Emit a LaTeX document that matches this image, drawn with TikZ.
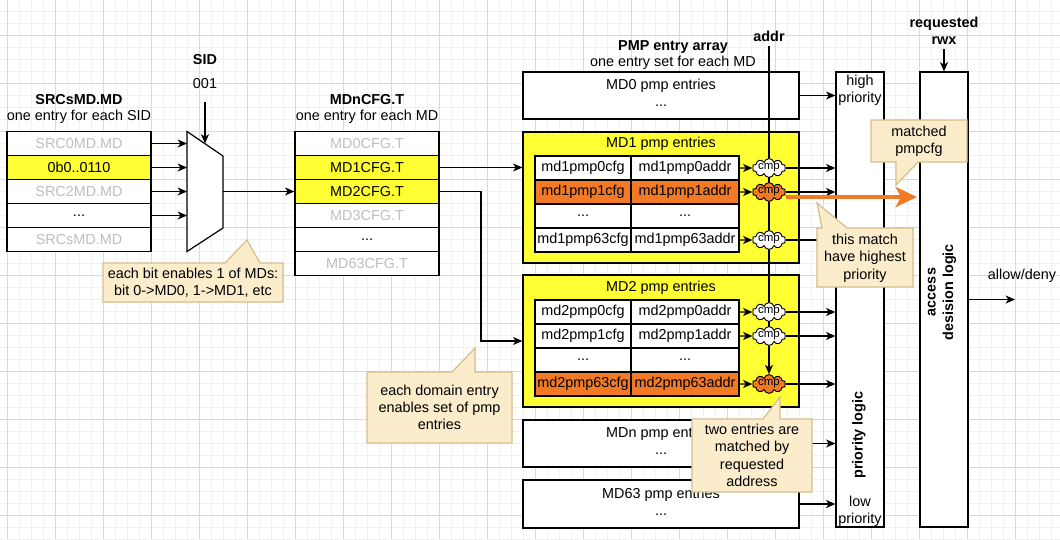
\documentclass[tikz,border=0pt]{standalone}
\usepackage{fontspec}
\setmainfont{Liberation Sans}
\usetikzlibrary{shapes.symbols,arrows.meta}
\definecolor{ylw}{RGB}{255,255,51}
\definecolor{org}{RGB}{242,122,38}
\definecolor{notefill}{RGB}{251,236,203}
\definecolor{notedraw}{RGB}{214,190,140}
\definecolor{txtgray}{RGB}{190,190,190}
\definecolor{gridmin}{RGB}{241,241,241}
\definecolor{gridmaj}{RGB}{218,218,218}
\begin{document}
\begin{tikzpicture}[x=0.75pt,y=-0.75pt,
  font=\fontsize{10.8}{13}\selectfont,
  line width=0.9pt,
  bold/.style={font=\fontsize{10.8}{13}\selectfont\bfseries},
  arr/.style={-{Stealth[length=7pt,width=6pt,inset=2pt]},line width=0.9pt},
  orangearr/.style={-{Stealth[length=16pt,width=15pt,inset=4pt]},line width=3pt,draw=org},
  tcell/.style={draw,inner sep=0pt,minimum width=108pt,minimum height=18pt,fill=white},
  gcell/.style={tcell,text=txtgray},
  ycell/.style={tcell,fill=ylw},
  cfgcell/.style={draw,inner sep=0pt,minimum width=72pt,minimum height=18pt,fill=white},
  addrcell/.style={draw,inner sep=0pt,minimum width=81pt,minimum height=18pt,fill=white},
  mdbox/.style={draw,fill=white,minimum width=207pt,inner sep=0pt},
  ybox/.style={draw,fill=ylw,minimum width=207pt,inner sep=0pt},
  tallbox/.style={draw,fill=white,minimum width=36pt,minimum height=341.25pt,inner sep=0pt},
  cmpcloud/.style={cloud,cloud puffs=10,cloud ignores aspect,draw,fill=white,line width=0.7pt,
    minimum width=25pt,minimum height=13pt,inner sep=0pt,font=\fontsize{8.6}{9}\selectfont},
  note/.style={draw=notedraw,fill=notefill,line width=0.9pt}
]
\useasboundingbox (0,0) rectangle (1060,539);
\fill[white] (0,0) rectangle (1060,539);
% grid
\foreach \x in {7,19,...,1060} \draw[gridmin,line width=0.75pt] (\x,0) -- (\x,539);
\foreach \y in {11,23,...,539} \draw[gridmin,line width=0.75pt] (0,\y) -- (1060,\y);
\foreach \x in {7,55,...,1060} \draw[gridmaj,line width=0.75pt] (\x,0) -- (\x,539);
\foreach \y in {35,83,...,539} \draw[gridmaj,line width=0.75pt] (0,\y) -- (1060,\y);

% SRCsMD table
\node[bold] (srct) at (79,100) {SRCsMD.MD};
\node (srcs) at (79,117) {one entry for each SID};
\node[gcell] (s0) at (79,143.5) {SRC0MD.MD};
\node[ycell] (s1) at (79,167.5) {0b0..0110};
\node[gcell] (s2) at (79,191.5) {SRC2MD.MD};
\node[tcell] (s3) at (79,215.5) {...};
\node[gcell] (s4) at (79,239.5) {SRCsMD.MD};

% mux
\coordinate (mux1) at (187,131.5);
\coordinate (mux2) at (223,156);
\coordinate (mux3) at (223,228);
\coordinate (mux4) at (187,251.5);
\coordinate (muxL) at (187,0);
\draw[fill=white] (mux1) -- (mux2) -- (mux3) -- (mux4) -- cycle;
\foreach \r in {s0,s1,s2,s3} \draw[arr] (\r.east) -- (\r.east -| muxL);
\node[bold] (sid) at (205,60) {SID};
\node (sidv) at (205,84) {001};
\coordinate (sidarr) at (205,102);
\coordinate (muxtop) at (205,143.5);
\draw[arr] (sidarr) -- (muxtop);
\coordinate (muxout) at (223,191.5);

% MDnCFG table
\node[bold] (cfgt) at (367,100) {MDnCFG.T};
\node (cfgs) at (367,117) {one entry for each MD};
\node[gcell] (c0) at (367,143.5) {MD0CFG.T};
\node[ycell] (c1) at (367,167.5) {MD1CFG.T};
\node[ycell] (c2) at (367,191.5) {MD2CFG.T};
\node[gcell] (c3) at (367,215.5) {MD3CFG.T};
\node[tcell] (c4) at (367,239.5) {...};
\node[gcell] (c5) at (367,263.5) {MD63CFG.T};
\draw[arr] (muxout) -- (c2.west);

% PMP entry array
\node[bold] (pmpt) at (673,47) {PMP entry array};
\node (pmps) at (673,63) {one entry set for each MD};
\node[mdbox,minimum height=35.25pt] (md0) at (661,95.5) {};
\node[align=center] (md0t) at (661,93) {MD0 pmp entries\\...};
\node[ybox,minimum height=98.25pt] (md1) at (661,197.5) {};
\node (md1t) at (661,144) {MD1 pmp entries};
\node[ybox,minimum height=99pt] (md2) at (661,341) {};
\node (md2t) at (661,288) {MD2 pmp entries};
\node[mdbox,minimum height=35.25pt] (mdn) at (661,443.5) {};
\node[align=center] (mdnt) at (661,441) {MDn pmp entries\\...};
\node[mdbox,minimum height=36pt] (md63) at (661,504) {};
\node[align=center] (md63t) at (661,501.5) {MD63 pmp entries\\...};

% MD1 inner table
\node[cfgcell] (f10) at (583,168) {md1pmp0cfg};
\node[addrcell] (a10) at (685,168) {md1pmp0addr};
\node[cfgcell,fill=org] (f11) at (583,192) {md1pmp1cfg};
\node[addrcell,fill=org] (a11) at (685,192) {md1pmp1addr};
\node[cfgcell] (f12) at (583,216) {...};
\node[addrcell] (a12) at (685,216) {...};
\node[cfgcell] (f13) at (583,240) {md1pmp63cfg};
\node[addrcell] (a13) at (685,240) {md1pmp63addr};
% MD2 inner table
\node[cfgcell] (f20) at (583,312) {md2pmp0cfg};
\node[addrcell] (a20) at (685,312) {md2pmp0addr};
\node[cfgcell] (f21) at (583,336) {md2pmp1cfg};
\node[addrcell] (a21) at (685,336) {md2pmp1addr};
\node[cfgcell] (f22) at (583,360) {...};
\node[addrcell] (a22) at (685,360) {...};
\node[cfgcell,fill=org] (f23) at (583,384) {md2pmp63cfg};
\node[addrcell,fill=org] (a23) at (685,384) {md2pmp63addr};

% cfg -> pmp arrows
\draw[arr] (c1.east) -- (c1.east -| md1.west);
\coordinate (bend) at (481,0);
\draw[arr] (c2.east) -| (bend |- md2.west) -- (md2.west);

% priority and access boxes
\node[tallbox] (prio) at (860,299.5) {};
\node[tallbox] (acc) at (944,299.5) {};
\node[align=center] (hp) at (860,90.5) {high\\priority};
\node[align=center] (lp) at (860,511) {low\\priority};
\node[bold,rotate=90] (plog) at (859,435) {priority logic};
\node[bold,rotate=90,align=center] (alog) at (942,292) {access\\desision logic};

% addr line (behind the clouds)
\node[bold] (addr) at (769,36) {addr};
\coordinate (addrmid) at (769,340);
\draw (addr.south) -- (addrmid);

% clouds
\node[cmpcloud] (k10) at (769,168) {cmp};
\node[cmpcloud,fill=org] (k11) at (769,192) {cmp};
\node[cmpcloud] (k13) at (769,240) {cmp};
\node[cmpcloud] (k20) at (769,312) {cmp};
\node[cmpcloud] (k21) at (769,336) {cmp};
\node[cmpcloud,fill=org] (k23) at (769,384) {cmp};
\draw[arr] (k21.south) -- (k23.north);

\foreach \a/\k in {a10/k10,a11/k11,a13/k13,a20/k20,a21/k21,a23/k23}{
  \draw[arr] (\a.east) -- (\k.west);
  \draw[arr] (\k.east) -- (\k.east -| prio.west);
}
\foreach \m in {md0,mdn,md63} \draw[arr] (\m.east) -- (\m.east -| prio.west);

% requested rwx
\node[bold,align=center] (req) at (944,30.5) {requested\\rwx};
\draw[arr] (req.south) -- (acc.north);
% allow/deny
\node (ad) at (1022,276) {allow/deny};
\coordinate (adend) at (1015,299.5);
\draw[arr] (acc.east) -- (adend);

% orange arrow
\coordinate (oend) at (917,197);
\draw[orangearr] (k11.east |- oend) -- (oend);

% callouts
\draw[note] (103,263) -- (225,263) -- (247,240) -- (260,263) -- (283,263) -- (283,302) -- (103,302) -- cycle;
\node[align=center] (n1) at (193,282.5) {each bit enables 1 of MDs:\\bit 0->MD0, 1->MD1, etc};
\draw[note] (367,372) -- (452,372) -- (475,348) -- (475,372) -- (512,372) -- (512,443) -- (367,443) -- cycle;
\node[align=center] (n2) at (439.5,407.5) {each domain entry\\enables set of pmp\\entries};
\draw[note] (692,419) -- (763,419) -- (780,397) -- (780,419) -- (812,419) -- (812,492) -- (692,492) -- cycle;
\node[align=center] (n3) at (752,455.5) {two entries are\\matched by\\requested\\address};
\draw[note] (871,120) -- (967,120) -- (967,162) -- (918,162) -- (896,185) -- (896,162) -- (871,162) -- cycle;
\node[align=center] (n4) at (919,141) {matched\\pmpcfg};
\draw[note] (817,228) -- (822,228) -- (817,203) -- (847,228) -- (913,228) -- (913,287) -- (817,287) -- cycle;
\node[align=center] (n5) at (865,258) {this match\\have highest\\priority};
\end{tikzpicture}
\end{document}
